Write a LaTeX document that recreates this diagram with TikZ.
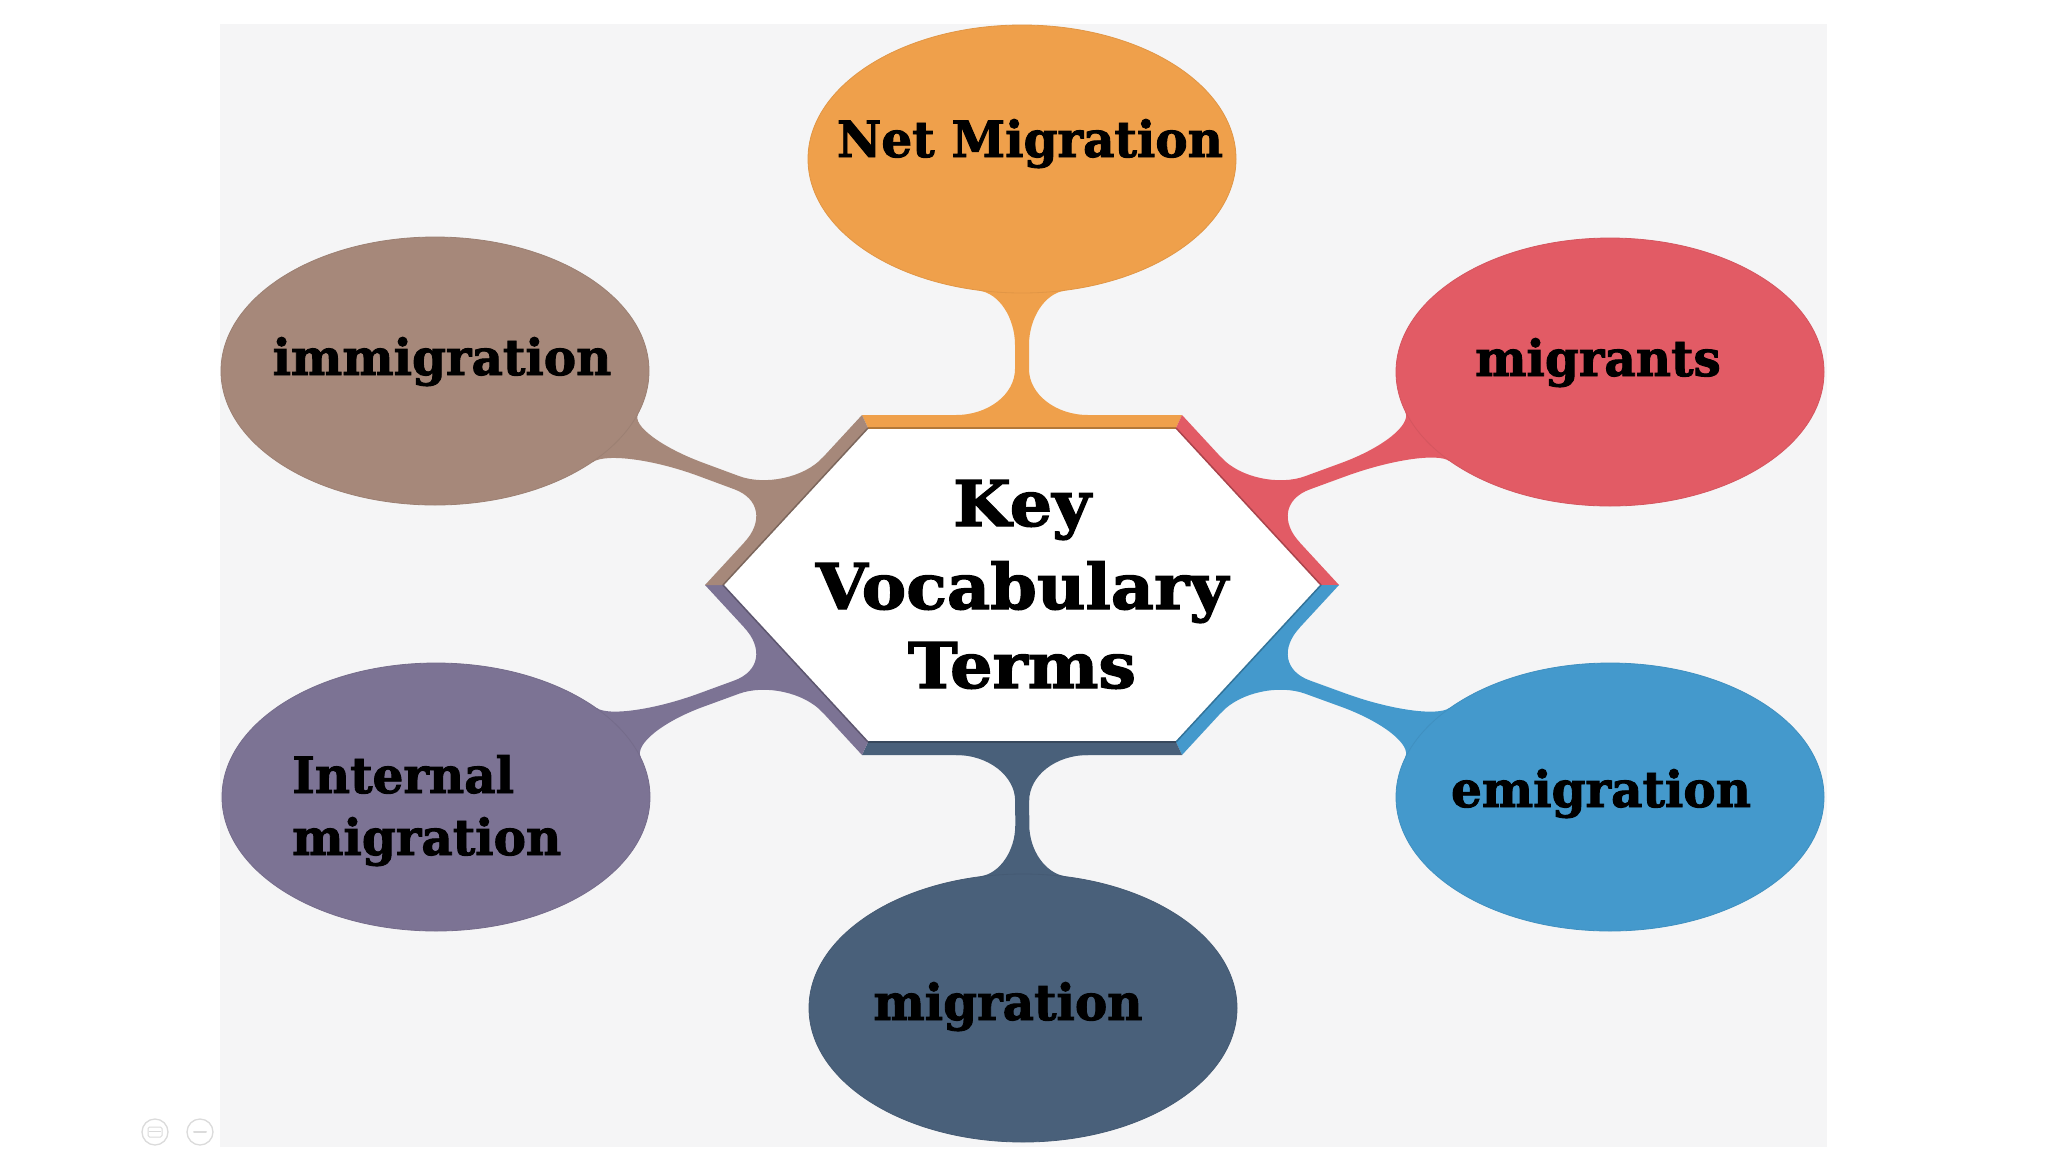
\documentclass[tikz,border=0pt]{standalone}
\usepackage{fontspec}
\usetikzlibrary{calc,shapes.geometric}
\newfontfamily\slab{DejaVu Serif}[FakeStretch=0.97,FakeBold=1.8]
\newfontfamily\slabw{DejaVu Serif}[FakeStretch=1.06,FakeBold=2]
\definecolor{cpanel}{RGB}{245,245,246}
\definecolor{corange}{RGB}{239,160,75}
\definecolor{cbrown}{RGB}{166,136,122}
\definecolor{cred}{RGB}{226,91,101}
\definecolor{cblue}{RGB}{68,153,204}
\definecolor{cnavy}{RGB}{73,96,122}
\definecolor{cpurple}{RGB}{124,115,148}
\pgfdeclarelayer{bg}
\pgfsetlayers{bg,main}
\tikzset{
  bubble/.style={ellipse, minimum width=428pt, minimum height=268pt, inner sep=0pt,
    fill=#1, draw=#1!94!black, line width=0.8pt},
  lbl/.style={font=\slab\bfseries\fontsize{50}{60}\selectfont, text=black, inner sep=0pt},
  ctr/.style={font=\slabw\bfseries\fontsize{63}{75}\selectfont, text=black, inner sep=0pt},
  icon/.style={draw=black!14, line width=1.3pt}
}
% #1 M, #2 ellipse node, #3 P, #4 Q, #5 colour, #6 neck start, #7 neck end, #8 junction angle, #9 base half width
\newcommand{\bubblestem}[9]{%
  \coordinate (sM) at #1;
  \coordinate (sE) at (#2.center);
  \pgfmathanglebetweenpoints{\pgfpointanchor{sE}{center}}{\pgfpointanchor{sM}{center}}%
  \let\sth\pgfmathresult
  \pgfmathsetmacro{\swa}{\sth-#8}%
  \pgfmathsetmacro{\swb}{\sth+#8}%
  \pgfmathsetmacro{\sa}{0.45*#9+4}%
  \pgfmathsetmacro{\sb}{0.45*#6}%
  \coordinate (sW1) at (#2.\swa);
  \coordinate (sW2) at (#2.\swb);
  \coordinate (sB1) at ($(sM)!#9pt!#3$);
  \coordinate (sB2) at ($(sM)!#9pt!#4$);
  \coordinate (sC1) at ($(sM)!\sa pt!#3$);
  \coordinate (sC2) at ($(sM)!\sa pt!#4$);
  \coordinate (sX) at ($(sM)!\sb pt!(sE)$);
  \coordinate (sK1) at ($(sX)!7pt!90:(sE)$);
  \coordinate (sK2) at ($(sX)!7pt!-90:(sE)$);
  \coordinate (sNa) at ($(sM)!#6pt!(sE)$);
  \coordinate (sNa1) at ($(sNa)!7pt!90:(sE)$);
  \coordinate (sNa2) at ($(sNa)!7pt!-90:(sE)$);
  \coordinate (sNb) at ($(sM)!#7pt!(sE)$);
  \coordinate (sNb1) at ($(sNb)!7pt!90:(sE)$);
  \coordinate (sNb2) at ($(sNb)!7pt!-90:(sE)$);
  \path let \p1 = ($(sW1)-(sE)$) in
    coordinate (sWt1) at ($(sW1)+({-1.597*\y1},{0.626*\x1})$);
  \path let \p2 = ($(sW2)-(sE)$) in
    coordinate (sWt2) at ($(sW2)+({-1.597*\y2},{0.626*\x2})$);
  \coordinate (sCr1) at (intersection of sW1--sWt1 and sNa1--sNb1);
  \coordinate (sCr2) at (intersection of sW2--sWt2 and sNa2--sNb2);
  \coordinate (sF1) at ($(sNb1)!0.55!(sCr1)$);
  \coordinate (sF2) at ($(sNb2)!0.55!(sCr2)$);
  \coordinate (sG1) at ($(sW1)!0.55!(sCr1)$);
  \coordinate (sG2) at ($(sW2)!0.55!(sCr2)$);
  \coordinate (sR) at ($(sM)!-10pt!(sE)$);
  \begin{pgfonlayer}{bg}
  \fill[#5] (sB1) .. controls (sC1) and (sK1) .. (sNa1) -- (sNb1)
     .. controls (sF1) and (sG1) .. (sW1) -- (sE) -- (sW2)
     .. controls (sG2) and (sF2) .. (sNb2) -- (sNa2)
     .. controls (sK2) and (sC2) .. (sB2) -- (sR) -- cycle;
  \end{pgfonlayer}
}
\begin{document}
\begin{tikzpicture}[x=1pt,y=-1pt]
\useasboundingbox (0,0) rectangle (2048,1152);
\begin{pgfonlayer}{bg}
\fill[white] (0,0) rectangle (2048,1152);
\fill[cpanel] (220,24) rectangle (1827,1147);
\end{pgfonlayer}

% presentation icons
\draw[icon] (155,1132) circle (13);
\draw[icon, line width=1pt, rounded corners=1.5pt] (148,1127) rectangle (162,1137);
\draw[icon, line width=0.8pt] (149,1131) -- (161,1131);
\draw[icon] (200,1132) circle (13);
\draw[icon, line width=2pt, line cap=round] (194,1132) -- (206,1132);

% bubbles
\node[bubble=corange] (net) at (1022,159) {};
\node[bubble=cbrown] (imm) at (435,371) {};
\node[bubble=cred] (mig) at (1610,372) {};
\node[bubble=cblue] (emi) at (1610,797) {};
\node[bubble=cnavy] (migr) at (1023,1008) {};
\node[bubble=cpurple] (intm) at (436,797) {};

% hexagon corners
\coordinate (hex) at (1022,585);
\coordinate (O1) at (862,415);  \coordinate (O2) at (1182,415);
\coordinate (O3) at (1339,585); \coordinate (O4) at (1182,755);
\coordinate (O5) at (862,755);  \coordinate (O6) at (705,585);
\coordinate (I1) at (868,428);  \coordinate (I2) at (1176,428);
\coordinate (I3) at (1321,585); \coordinate (I4) at (1176,742);
\coordinate (I5) at (868,742);  \coordinate (I6) at (723,585);

% stems (connectors bubble -> hexagon)
\bubblestem{($(O1)!0.5!(O2)$)}{net}{(O1)}{(O2)}{corange}{46}{70}{18}{66}
\bubblestem{($(O6)!0.5!(O1)$)}{imm}{(O6)}{(O1)}{cbrown}{50}{88}{9}{58}
\bubblestem{($(O2)!0.5!(O3)$)}{mig}{(O2)}{(O3)}{cred}{50}{88}{9}{58}
\bubblestem{($(O3)!0.5!(O4)$)}{emi}{(O3)}{(O4)}{cblue}{50}{88}{9}{58}
\bubblestem{($(O4)!0.5!(O5)$)}{migr}{(O4)}{(O5)}{cnavy}{46}{70}{18}{66}
\bubblestem{($(O5)!0.5!(O6)$)}{intm}{(O5)}{(O6)}{cpurple}{50}{88}{9}{58}

% hexagon band
\fill[white] (I1) -- (I2) -- (I3) -- (I4) -- (I5) -- (I6) -- cycle;
\fill[corange] (O1) -- (O2) -- (I2) -- (I1) -- cycle;
\fill[cred] (O2) -- (O3) -- (I3) -- (I2) -- cycle;
\fill[cblue] (O3) -- (O4) -- (I4) -- (I3) -- cycle;
\fill[cnavy] (O4) -- (O5) -- (I5) -- (I4) -- cycle;
\fill[cpurple] (O5) -- (O6) -- (I6) -- (I5) -- cycle;
\fill[cbrown] (O6) -- (O1) -- (I1) -- (I6) -- cycle;
\draw[corange!75!black, line width=1.5pt] (I1) -- (I2);
\draw[cred!75!black, line width=1.5pt] (I2) -- (I3);
\draw[cblue!75!black, line width=1.5pt] (I3) -- (I4);
\draw[cnavy!75!black, line width=1.5pt] (I4) -- (I5);
\draw[cpurple!75!black, line width=1.5pt] (I5) -- (I6);
\draw[cbrown!75!black, line width=1.5pt] (I6) -- (I1);

% texts
\node[ctr, anchor=base] (k1) at (1022,526) {Key};
\node[ctr, anchor=base] (k2) at (1022,609) {Vocabulary};
\node[ctr, anchor=base] (k3) at (1022,688) {Terms};
\node[lbl, anchor=base] (tnet) at (1030,157) {Net Migration};
\node[lbl, anchor=base] (timm) at (442,375) {immigration};
\node[lbl, anchor=base] (tmig) at (1598,376) {migrants};
\node[lbl, anchor=base] (temi) at (1601,807) {emigration};
\node[lbl, anchor=base west] (tint1) at (292,793) {Internal};
\node[lbl, anchor=base west] (tint2) at (292,855) {migration};
\node[lbl, anchor=base] (tmigr) at (1008,1020) {migration};
\end{tikzpicture}
\end{document}
